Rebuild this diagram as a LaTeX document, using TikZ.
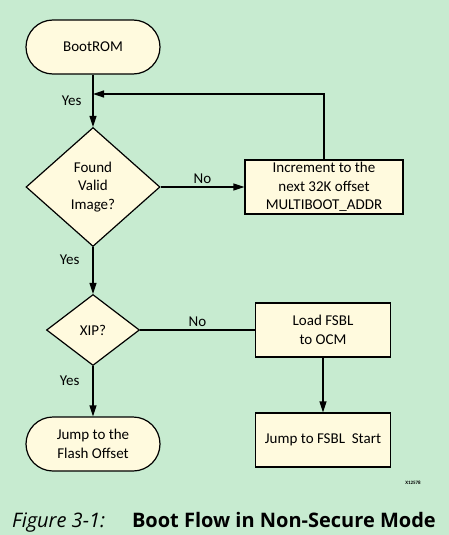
\documentclass[tikz,border=0pt]{standalone}
\usepackage{fontspec}
\setmainfont{Carlito}
\newfontfamily\capfont{Open Sans}
\usepackage{xcolor}
\usetikzlibrary{shapes.geometric,arrows.meta}
\definecolor{bggreen}{RGB}{199,235,208}
\definecolor{boxfill}{RGB}{255,250,222}

\begin{document}
\begin{tikzpicture}[x=1pt,y=-1pt,
  font=\fontsize{15}{18.5}\selectfont,
  every node/.style={inner sep=1pt},
  shape base/.style={draw,fill=boxfill,line width=1.2pt,align=center},
  terminal/.style={shape base,rectangle,rounded corners=27pt,minimum width=134pt,minimum height=54pt},
  stepbox/.style={shape base,rectangle,minimum height=54pt},
  decision/.style={shape base,diamond,inner sep=0pt},
  flow/.style={line width=1.2pt},
  arr/.style={flow,-{Triangle[length=11pt,width=7pt]}}]
  \fill[bggreen] (0,0) rectangle (449,535);

  % nodes
  \node[terminal] (boot) at (93,47) {BootROM};
  \node[decision,minimum width=134pt,minimum height=119pt,aspect=1.13] (found) at (93,187) {Found\\Valid\\Image?};
  \node[stepbox,minimum width=158pt] (incr) at (324,187) {Increment to the\\next 32K offset\\MULTIBOOT\_ADDR};
  \node[decision,minimum width=93pt,minimum height=71pt,aspect=1.3] (xip) at (93,330) {XIP?};
  \node[stepbox,minimum width=135pt] (load) at (323,330) {Load FSBL\\to OCM};
  \node[terminal] (flash) at (93,444) {Jump to the\\Flash Offset};
  \node[stepbox,minimum width=135pt] (fsbl) at (323,440) {Jump to FSBL~ Start};
  \coordinate (loop) at (93,94);

  % connectors
  \draw[arr] (boot) -- node[midway,left=10pt] {Yes} (found);
  \draw[arr] (incr.north) |- (loop);
  \draw[arr] (found) -- node[above=2pt] {No} (incr);
  \draw[arr] (found) -- node[pos=0.27,left=12pt] {Yes} (xip);
  \draw[flow] (xip) -- node[above=2pt] {No} (load);
  \draw[arr] (xip) -- node[pos=0.3,left=12pt] {Yes} (flash);
  \draw[arr] (load) -- (fsbl);

  \node[font=\fontsize{5}{6}\selectfont\bfseries] (tag) at (413,483) {X12578};
  \node[anchor=base west,font=\capfont\fontsize{20}{24}\selectfont\itshape] (fignum) at (11,527) {Figure 3-1:};
  \node[anchor=base east,font=\capfont\fontsize{20}{24}\selectfont\bfseries] (title) at (437,527) {Boot Flow in Non-Secure Mode};
\end{tikzpicture}
\end{document}
